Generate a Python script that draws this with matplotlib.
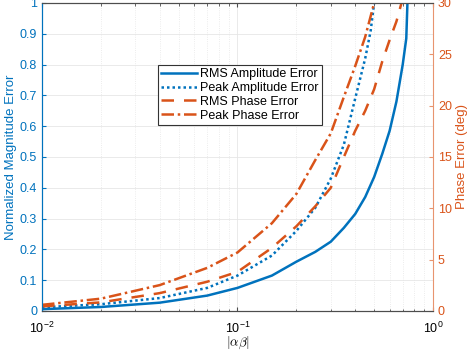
import numpy as np
import matplotlib
matplotlib.use("Agg")
from matplotlib import pyplot as plt
from matplotlib.ticker import LogLocator, NullFormatter

plt.rcParams['font.family'] = ['Liberation Sans', 'DejaVu Sans']
plt.rcParams['mathtext.fontset'] = 'cm'

## Curve values
ab_amp = [0.01, 0.02, 0.04, 0.07, 0.1, 0.15, 0.2, 0.25, 0.3, 0.35, 0.4,
          0.45, 0.5, 0.55, 0.6, 0.65, 0.7, 0.73, 0.74]
rms_amp = [0.006, 0.013, 0.027, 0.05, 0.075, 0.115, 0.16, 0.192, 0.225, 0.27,
           0.315, 0.37, 0.435, 0.51, 0.585, 0.68, 0.80, 0.885, 1.0]

ab_peak_amp = [0.01, 0.02, 0.04, 0.07, 0.1, 0.15, 0.2, 0.25, 0.3, 0.35, 0.4,
               0.45, 0.48, 0.5]
peak_amp = [0.012, 0.022, 0.042, 0.075, 0.115, 0.18, 0.26, 0.335, 0.43, 0.54,
            0.69, 0.82, 0.91, 1.0]

ab_rms_ph = [0.01, 0.02, 0.04, 0.07, 0.1, 0.15, 0.2, 0.25, 0.3, 0.35, 0.4,
             0.45, 0.5, 0.55, 0.6, 0.65, 0.69]
rms_ph = [0.45, 0.84, 1.74, 2.85, 3.81, 6.15, 8.25, 10.2, 12.0, 15.0, 17.55,
          19.5, 21.6, 24.3, 26.4, 28.2, 30.0]

ab_peak_ph = [0.01, 0.02, 0.04, 0.07, 0.1, 0.15, 0.2, 0.25, 0.3, 0.35, 0.4,
              0.45, 0.5]
peak_ph = [0.6, 1.2, 2.52, 4.2, 5.7, 8.55, 11.4, 14.7, 17.3, 20.85, 23.85,
           26.7, 30.0]

BLUE = "#0072BD"
ORANGE = "#D95319"
LIGHT_OR = "#E8946F"
AXGRAY = "#4d4d4d"

fig = plt.figure(figsize=(4.74, 3.52), dpi=100)
ax = fig.add_axes([0.0886, 0.1165, 0.8249, 0.875])
ax2 = ax.twinx()

l1, = ax.plot(ab_amp, rms_amp, color=BLUE, lw=1.8, label="RMS Amplitude Error")
l2, = ax.plot(ab_peak_amp, peak_amp, color=BLUE, lw=1.8, ls=(0, (1, 1.2)),
              label="Peak Amplitude Error")
l3, = ax2.plot(ab_rms_ph, rms_ph, color=ORANGE, lw=1.8, ls=(0, (5, 4)),
               label="RMS Phase Error")
l4, = ax2.plot(ab_peak_ph, peak_ph, color=ORANGE, lw=1.8,
               ls=(0, (5, 1.5, 1, 1.5)), label="Peak Phase Error")

ax.set_xscale("log")
ax.set_xlim(0.01, 1)
ax.set_ylim(0, 1)
ax2.set_ylim(0, 30)
ax.set_yticks(np.arange(0, 1.01, 0.1))
ax.set_yticklabels(["0", "0.1", "0.2", "0.3", "0.4", "0.5", "0.6", "0.7",
                    "0.8", "0.9", "1"])
ax2.set_yticks(range(0, 31, 5))
ax.xaxis.set_major_locator(LogLocator(base=10, numticks=5))
ax.xaxis.set_minor_locator(LogLocator(base=10, subs=np.arange(2, 10), numticks=20))
ax.xaxis.set_minor_formatter(NullFormatter())

## grid, MATLAB style
ax.grid(True, which="major", color="#e6e6e6", lw=0.6)
ax.grid(True, which="minor", axis="x", color="#e6e6e6", lw=0.6, ls=":")
ax.set_axisbelow(True)

ax.tick_params(axis="x", which="both", direction="in", top=True,
               colors=AXGRAY, labelcolor="black", labelsize=9, pad=7)
ax.tick_params(axis="x", which="major", length=3)
ax.tick_params(axis="x", which="minor", length=1.8)
ax.tick_params(axis="y", direction="in", length=3, colors=BLUE,
               labelsize=9, right=False)
ax2.tick_params(axis="y", direction="in", length=3, colors=LIGHT_OR,
                labelcolor=ORANGE, labelsize=9)

for s in ["top", "bottom"]:
    ax.spines[s].set_color(AXGRAY)
    ax2.spines[s].set_color(AXGRAY)
ax.spines["left"].set_color(BLUE)
ax2.spines["left"].set_color(BLUE)
ax2.spines["right"].set_color(LIGHT_OR)
ax.spines["right"].set_visible(False)

ax.set_xlabel(r"$|\alpha\beta|$", fontsize=9.5, labelpad=-1)
ax.set_ylabel("Normalized Magnitude Error", color=BLUE, fontsize=9.5, labelpad=2)
ax2.set_ylabel("Phase Error (deg)", color=ORANGE, fontsize=9.5, labelpad=3)

leg = ax2.legend(handles=[l1, l2, l3, l4], loc="upper left",
                 bbox_to_anchor=(0.297, 0.799), fontsize=9, frameon=True,
                 fancybox=False, edgecolor="#333333", framealpha=1,
                 handlelength=2.9, handletextpad=0.2, borderpad=0.25,
                 labelspacing=0.15, borderaxespad=0)
leg.get_frame().set_linewidth(0.8)

fig.savefig("out.png", dpi=100)
